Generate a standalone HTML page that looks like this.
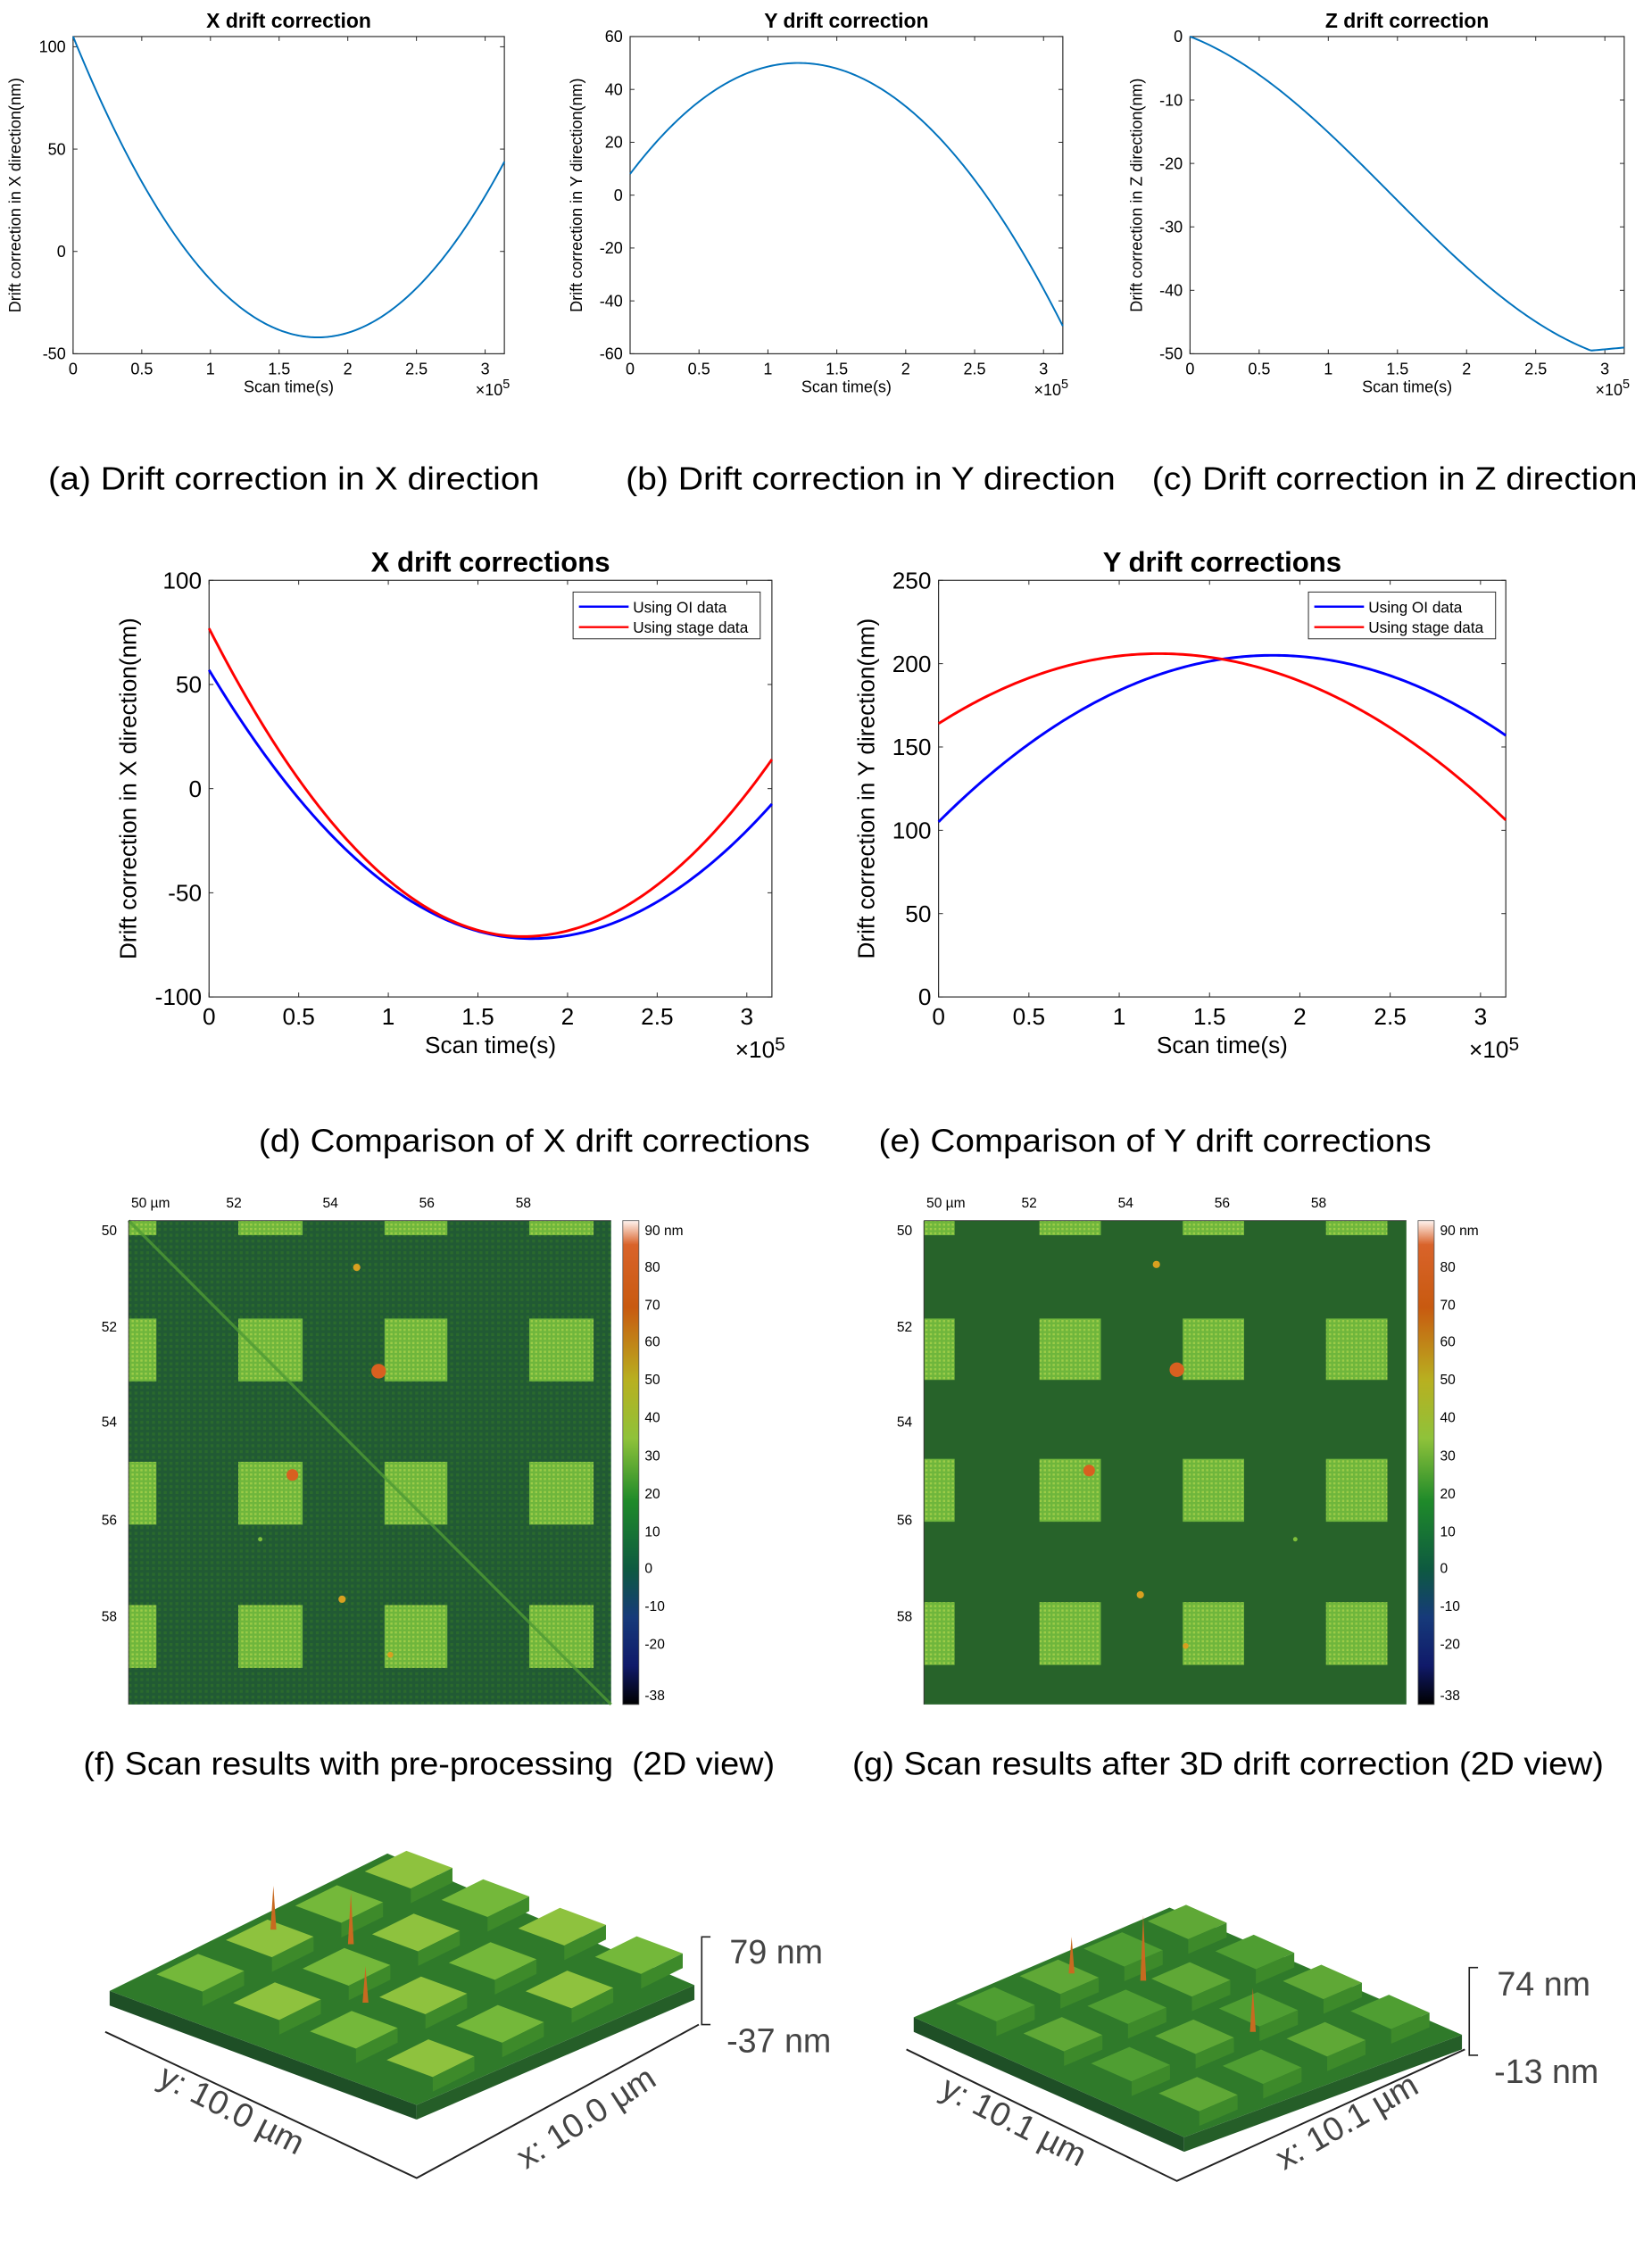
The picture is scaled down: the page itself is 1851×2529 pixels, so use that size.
<!DOCTYPE html>
<html><head><meta charset="utf-8"><style>
html,body{margin:0;padding:0;background:#fff}
svg{display:block}
text{font-family:"Liberation Sans",sans-serif}
</style></head><body>
<svg id="s" width="1851" height="2529" viewBox="0 0 1130 1544" preserveAspectRatio="none" xmlns="http://www.w3.org/2000/svg">
<defs>
<linearGradient id="cb" x1="0" y1="0" x2="0" y2="1">
<stop offset="0" stop-color="#fff4f0"/><stop offset="0.05" stop-color="#d9632a"/><stop offset="0.18" stop-color="#c85a10"/>
<stop offset="0.33" stop-color="#b8b020"/><stop offset="0.45" stop-color="#8fc23a"/><stop offset="0.58" stop-color="#1f8a2a"/>
<stop offset="0.72" stop-color="#0e5a40"/><stop offset="0.82" stop-color="#163a7a"/><stop offset="0.92" stop-color="#101a6a"/><stop offset="1" stop-color="#000"/>
</linearGradient>
<pattern id="tx" width="4" height="4" patternUnits="userSpaceOnUse"><rect width="4" height="4" fill="#1d5438"/><rect width="2" height="2" fill="#2a6a2e"/></pattern>
<pattern id="sq" width="3" height="3" patternUnits="userSpaceOnUse"><rect width="3" height="3" fill="#6fb63c"/><rect width="1.5" height="1.5" fill="#9ccc48"/></pattern>
</defs>
<g id="g"></g>
</svg>
<script>
var G=document.getElementById('g'),o='';
function T(x,y,s,t,a,ex){o+='<text x="'+x+'" y="'+y+'" font-size="'+s+'" text-anchor="'+(a||'middle')+'" '+(ex||'')+'>'+t+'</text>';}
function plot(p){
 var X0=p.x0,X1=p.x1,Y0=p.y0,Y1=p.y1;
 o+='<rect x="'+X0+'" y="'+Y0+'" width="'+(X1-X0)+'" height="'+(Y1-Y0)+'" fill="#fff" stroke="#262626" stroke-width="0.7"/>';
 var sx=function(t){return X0+(X1-X0)*t/3.14},sy=function(v){return Y1-(Y1-Y0)*(v-p.ymin)/(p.ymax-p.ymin)};
 [0,0.5,1,1.5,2,2.5,3].forEach(function(t){var x=sx(t);o+='<line x1="'+x+'" x2="'+x+'" y1="'+Y1+'" y2="'+(Y1-3)+'" stroke="#262626" stroke-width="0.6"/><line x1="'+x+'" x2="'+x+'" y1="'+Y0+'" y2="'+(Y0+3)+'" stroke="#262626" stroke-width="0.6"/>';T(x,Y1+p.fs+3,p.fs,t);});
 p.yt.forEach(function(v){var y=sy(v);o+='<line x1="'+X0+'" x2="'+(X0+3)+'" y1="'+y+'" y2="'+y+'" stroke="#262626" stroke-width="0.6"/><line x1="'+X1+'" x2="'+(X1-3)+'" y1="'+y+'" y2="'+y+'" stroke="#262626" stroke-width="0.6"/>';T(X0-5,y+p.fs*0.35,p.fs,v,'end');});
 T(X0/2+X1/2,Y0-6,p.ts,p.title,'middle','font-weight="bold"');
 T((X0+X1)/2,Y1+p.fs*2.4,p.fs,'Scan time(s)');
 T(X1-8,Y1+p.fs*2.6,p.fs,'×10<tspan font-size="'+(p.fs*0.8)+'" dy="-5">5</tspan>');
 T(0,0,p.fs,p.yl,'middle','transform="translate('+p.ylx+','+(Y0+Y1)/2+') rotate(-90)"');
 p.f.forEach(function(f){var d='';for(var i=0;i<=200;i++){var t=3.14*i/200;d+=(i?'L':'M')+sx(t).toFixed(2)+','+sy(f[0](t)).toFixed(2);}o+='<path d="'+d+'" fill="none" stroke="'+f[1]+'" stroke-width="'+p.lw+'"/>';});
 if(p.leg){var lx=p.leg;o+='<rect x="'+lx+'" y="'+(Y0+8)+'" width="128" height="32" fill="#fff" stroke="#262626" stroke-width="0.6"/>';
 o+='<line x1="'+(lx+4)+'" x2="'+(lx+38)+'" y1="'+(Y0+18)+'" y2="'+(Y0+18)+'" stroke="#0000ff" stroke-width="1.5"/><line x1="'+(lx+4)+'" x2="'+(lx+38)+'" y1="'+(Y0+32)+'" y2="'+(Y0+32)+'" stroke="#ff0000" stroke-width="1.5"/>';
 T(lx+41,Y0+22,10.5,'Using OI data','start');T(lx+41,Y0+36,10.5,'Using stage data','start');}
}
function par(m,v,kl,kr,s){return function(t){var k=t<m?kl:kr;return v+s*k*(t-m)*(t-m);}}
var bl='#0072bd';
plot({x0:50,x1:345,y0:25,y1:242,ymin:-50,ymax:105,yt:[100,50,0,-50],fs:11,ts:14,title:'X drift correction',yl:'Drift correction in X direction(nm)',ylx:14,lw:1.2,f:[[par(1.78,-42,46.4,46.4,1),bl]]});
plot({x0:431,x1:727,y0:25,y1:242,ymin:-60,ymax:60,yt:[60,40,20,0,-20,-40,-60],fs:11,ts:14,title:'Y drift correction',yl:'Drift correction in Y direction(nm)',ylx:398,lw:1.2,f:[[par(1.22,50,28.2,27,-1),bl]]});
plot({x0:814,x1:1111,y0:25,y1:242,ymin:-50,ymax:0,yt:[0,-10,-20,-30,-40,-50],fs:11,ts:14,title:'Z drift correction',yl:'Drift correction in Z direction(nm)',ylx:781,lw:1.2,f:[[function(t){if(t>2.9)return -49.5+(t-2.9)*2;return -49.5*(0.5*t/2.9+0.5*(1-Math.cos(Math.PI*t/2.9))/2);},bl]]});
plot({x0:143,x1:528,y0:397,y1:682,ymin:-100,ymax:100,yt:[100,50,0,-50,-100],fs:16,ts:19,title:'X drift corrections',yl:'Drift correction in X direction(nm)',ylx:93,lw:1.8,leg:392,f:[[par(1.8,-72,39.8,36,1),'#0000ff'],[par(1.75,-71,48.3,44,1),'#ff0000']]});
plot({x0:642,x1:1030,y0:397,y1:682,ymin:0,ymax:250,yt:[250,200,150,100,50,0],fs:16,ts:19,title:'Y drift corrections',yl:'Drift correction in Y direction(nm)',ylx:598,lw:1.8,leg:895,f:[[par(1.85,205,29.2,28.9,-1),'#0000ff'],[par(1.22,206,28.2,27.1,-1),'#ff0000']]});
var cap=[[33,335,336,'(a) Drift correction in X direction'],[428,335,335,'(b) Drift correction in Y direction'],[788,335,332,'(c) Drift correction in Z direction'],[177,788,377,'(d) Comparison of X drift corrections'],[601,788,378,'(e) Comparison of Y drift corrections'],[57,1214,473,'(f) Scan results with pre-processing  (2D view)'],[583,1214,514,'(g) Scan results after 3D drift correction (2D view)'],[57,1563,479,'(h) Scan results with pre-processing  (3D view)'],[583,1563,514,'(i) Scan results after 3D drift correction (3D view)']];
cap.forEach(function(c){T(c[0],c[1],22,c[3],'start','textLength="'+c[2]+'" lengthAdjust="spacingAndGlyphs" xml:space="preserve"');});
function scan(x0,cols,rows,bg,diag,dots){
 var y0=835,w=330;
 o+='<rect x="'+x0+'" y="'+y0+'" width="'+w+'" height="331" fill="'+bg+'"/>';
 if(bg.indexOf('url')==0)o+='<rect x="'+x0+'" y="'+y0+'" width="'+w+'" height="331" fill="#2a6a2a" opacity="0.3"/>';
 cols.forEach(function(c){rows.forEach(function(r){o+='<rect x="'+c[0]+'" y="'+r[0]+'" width="'+(c[1]-c[0])+'" height="'+(r[1]-r[0])+'" fill="url(#sq)"/>';});});
 if(diag)o+='<line x1="'+x0+'" y1="'+y0+'" x2="'+(x0+w)+'" y2="'+(y0+331)+'" stroke="#4f9a35" stroke-width="2" opacity="0.8"/>';
 dots.forEach(function(d){o+='<circle cx="'+d[0]+'" cy="'+d[1]+'" r="'+d[2]+'" fill="'+(d[3]||'#d8a020')+'"/>';});
 o+='<line x1="'+x0+'" y1="'+y0+'" x2="'+(x0+w)+'" y2="'+y0+'" stroke="#333" stroke-width="0.6"/><line x1="'+x0+'" y1="'+y0+'" x2="'+x0+'" y2="'+(y0+331)+'" stroke="#333" stroke-width="0.6"/>';
 [['50 µm',x0+15],['52',x0+72],['54',x0+138],['56',x0+204],['58',x0+270]].forEach(function(l){T(l[1],y0-9,9.5,l[0]);});
 [['50',845],['52',911],['54',976],['56',1043],['58',1109]].forEach(function(l){T(x0-8,l[1],9.5,l[0],'end');});
 var cx=x0+338;o+='<rect x="'+cx+'" y="'+y0+'" width="11" height="331" fill="url(#cb)" stroke="#555" stroke-width="0.5"/>';
 [['90 nm',842],['80',867],['70',893],['60',918],['50',944],['40',970],['30',996],['20',1022],['10',1048],['0',1073],['-10',1099],['-20',1125],['-38',1160]].forEach(function(l){T(cx+15,l[1]+3,9.5,l[0],'start');});
}
scan(88,[[88,107],[163,207],[263,306],[362,406]],[[835,845],[902,945],[1000,1043],[1098,1141]],'url(#tx)',true,[[259,938,5,'#d86020'],[200,1009,4,'#d86020'],[244,867,2.5],[234,1094,2.5],[267,1132,2],[178,1053,1.5,'#7fbf3a']]);
scan(632,[[632,653],[711,753],[809,851],[907,949]],[[835,845],[902,944],[998,1041],[1096,1139]],'#27632a',false,[[805,937,5,'#d86020'],[745,1006,4,'#d86020'],[791,865,2.5],[780,1091,2.5],[811,1126,2],[886,1053,1.5,'#7fbf3a']]);
function iso(L,Tp,R,B,h,cols,sc){
 o+='<polygon points="'+L[0]+','+L[1]+' '+B[0]+','+B[1]+' '+B[0]+','+(B[1]+h)+' '+L[0]+','+(L[1]+h)+'" fill="#1e4f26"/>';
 o+='<polygon points="'+R[0]+','+R[1]+' '+B[0]+','+B[1]+' '+B[0]+','+(B[1]+h)+' '+R[0]+','+(R[1]+h)+'" fill="#255e28"/>';
 o+='<polygon points="'+L+' '+Tp+' '+R+' '+B+'" fill="#2f7a2a"/>';
 function P(u,v){return [L[0]+(Tp[0]-L[0])*u+(B[0]-L[0])*v,L[1]+(Tp[1]-L[1])*u+(B[1]-L[1])*v];}
 for(var i=0;i<4;i++)for(var j=0;j<4;j++){var u=0.08+i*0.25,v=0.08+j*0.25,d=0.15;var a=P(u,v),b=P(u+d,v),c=P(u+d,v+d),e=P(u,v+d);var hh=-10;
  o+='<polygon points="'+a[0]+','+(a[1]+hh)+' '+b[0]+','+(b[1]+hh)+' '+c[0]+','+(c[1]+hh)+' '+e[0]+','+(e[1]+hh)+'" fill="'+cols[(i+j)%2]+'"/>';
  o+='<polygon points="'+e[0]+','+(e[1]+hh)+' '+c[0]+','+(c[1]+hh)+' '+c[0]+','+c[1]+' '+e[0]+','+e[1]+'" fill="#3d8a2a"/>';}
 sc.forEach(function(s){o+='<polygon points="'+(s[0]-2)+','+s[1]+' '+s[0]+','+(s[1]-s[2])+' '+(s[0]+2)+','+s[1]+'" fill="#c86a20"/>';});
}
iso([75,1362],[265,1268],[475,1358],[285,1440],10,['#74b83a','#8ec23e'],[[187,1320,30],[240,1330,35],[250,1370,25]]);
o+='<polyline points="72,1390 285,1490 478,1385" fill="none" stroke="#222" stroke-width="1.2"/>';
o+='<polyline points="486,1325 480,1325 480,1385 486,1385" fill="none" stroke="#222" stroke-width="1"/>';
T(499,1343,23,'79 nm','start','fill="#444"');T(497,1404,23,'-37 nm','start','fill="#444"');
T(0,0,23,'y: 10.0 µm','middle','fill="#444" transform="translate(155,1450) rotate(27)"');
T(0,0,23,'x: 10.0 µm','middle','fill="#444" transform="translate(405,1455) rotate(-33)"');
iso([625,1380],[800,1305],[1000,1392],[810,1462],10,['#4f9e32','#5fa836'],[[733,1350,25],[782,1355,45],[857,1390,30]]);
o+='<polyline points="620,1402 805,1492 1002,1402" fill="none" stroke="#222" stroke-width="1.2"/>';
o+='<polyline points="1011,1346 1005,1346 1005,1406 1011,1406" fill="none" stroke="#222" stroke-width="1"/>';
T(1024,1365,23,'74 nm','start','fill="#444"');T(1022,1425,23,'-13 nm','start','fill="#444"');
T(0,0,23,'y: 10.1 µm','middle','fill="#444" transform="translate(690,1458) rotate(27)"');
T(0,0,23,'x: 10.1 µm','middle','fill="#444" transform="translate(925,1458) rotate(-30)"');
G.innerHTML=o;
</script>
</body></html>
